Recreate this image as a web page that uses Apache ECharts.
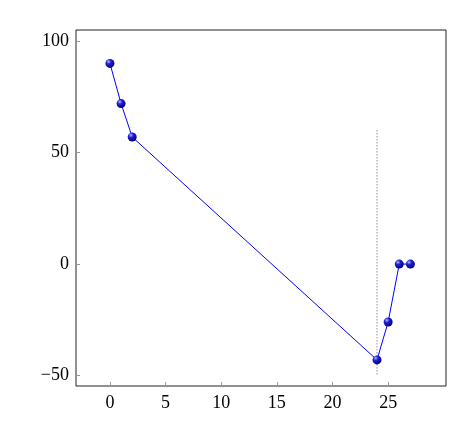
<!DOCTYPE html>
<html><head><meta charset="utf-8">
<script src="https://cdn.jsdelivr.net/npm/echarts@6/dist/echarts.min.js"></script>
<style>html,body{margin:0;padding:0;background:#fff}#c{width:474px;height:441px}</style>
</head><body><div id="c"></div>
<script>
const xValues = [0, 1, 2, 24, 25, 26, 27];
const yValues = [90, 72, 57, -43, -26, 0, 0];
const vlineX = [24, 24];
const vlineY = [60, -50];
const xTicks = [0, 5, 10, 15, 20, 25];
const yTicks = [-50, 0, 50, 100];

const chart = echarts.init(document.getElementById('c'), null, {renderer: 'canvas'});
const fmt = v => String(v).replace('-', '\u2212');
const font = {fontFamily: 'Liberation Serif', fontSize: 18, color: '#000'};
chart.setOption({
  animation: false,
  grid: {left: 76, right: 28, top: 30, bottom: 55, show: true, borderColor: '#222', borderWidth: 1, backgroundColor: 'transparent'},
  xAxis: {type: 'value', min: -3.05, max: 30.2, splitLine: {show: false},
    axisLine: {show: false, onZero: false},
    axisTick: {show: true, inside: true, length: 4, customValues: xTicks, lineStyle: {color: '#999'}},
    axisLabel: Object.assign({customValues: xTicks, formatter: fmt, margin: 8}, font)},
  yAxis: {type: 'value', min: -54.7, max: 105, splitLine: {show: false},
    axisLine: {show: false, onZero: false},
    axisTick: {show: true, inside: true, length: 4, customValues: yTicks, lineStyle: {color: '#999'}},
    axisLabel: Object.assign({customValues: yTicks, formatter: fmt, margin: 7}, font)},
  series: [
    {type: 'line', data: vlineX.map((x, i) => [x, vlineY[i]]), symbol: 'none', silent: true,
     lineStyle: {color: '#333', width: 0.8, type: [1, 2]}, z: 1},
    {type: 'line', data: xValues.map((x, i) => [x, yValues[i]]), symbol: 'circle', symbolSize: 9,
     lineStyle: {color: '#0000ff', width: 1},
     itemStyle: {color: new echarts.graphic.RadialGradient(0.35, 0.3, 0.75, [
       {offset: 0, color: '#b8b8ff'}, {offset: 0.35, color: '#2020e0'}, {offset: 1, color: '#000060'}]), borderWidth: 0}, z: 3}
  ]
});
</script></body></html>
